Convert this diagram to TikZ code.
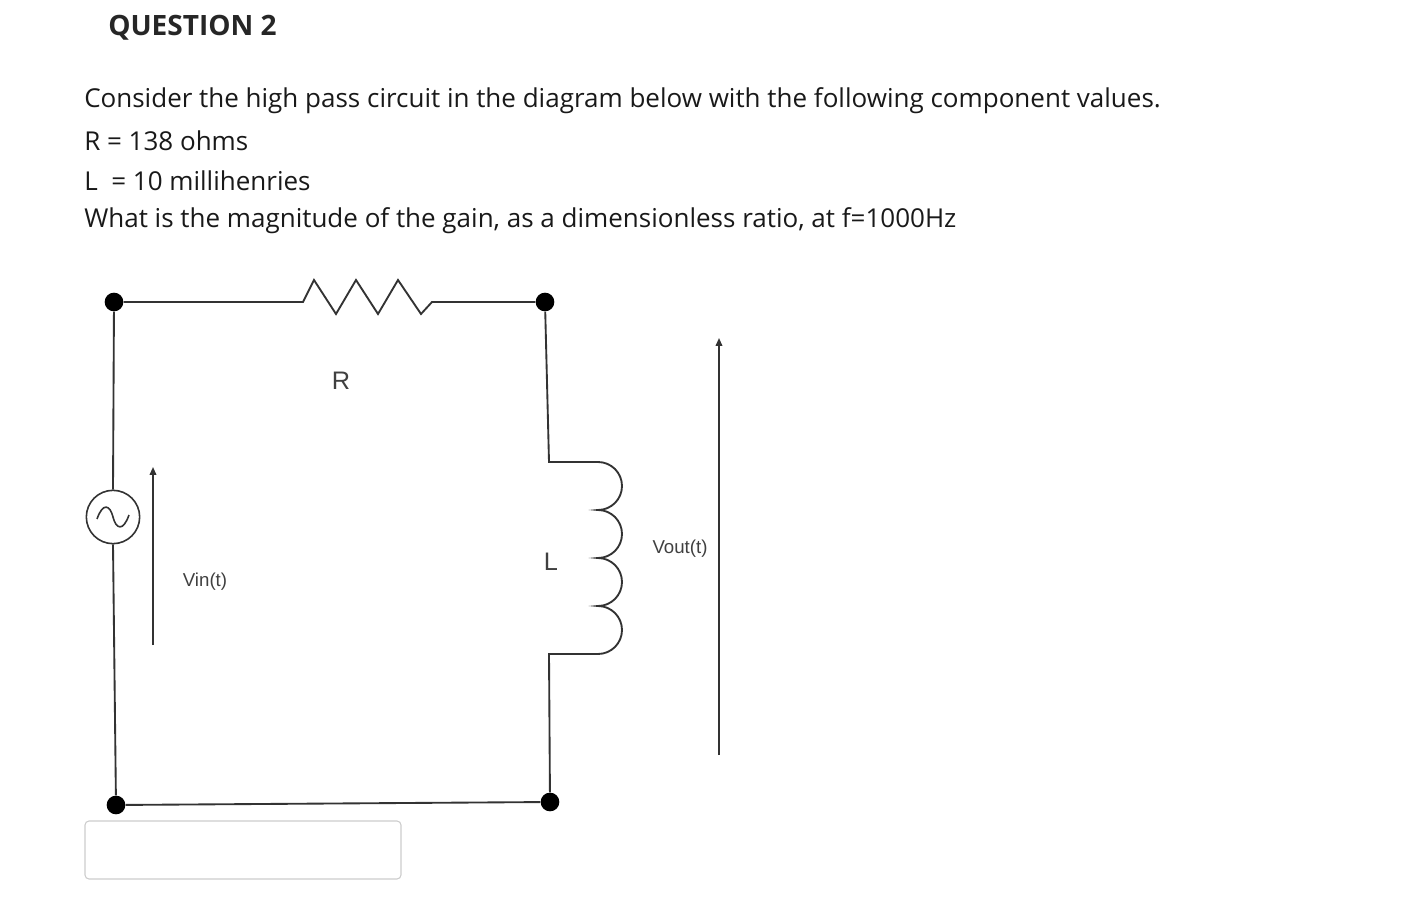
\documentclass[tikz,border=0pt]{standalone}
\usepackage{fontspec}
\setmainfont{Open Sans}
\newfontfamily\arial{Liberation Sans}
\usetikzlibrary{arrows.meta}
\begin{document}
\begin{tikzpicture}[x=0.75pt,y=-0.75pt,
  wire/.style={line width=1.4pt,draw=black!80},
  dotnode/.style={circle,fill=black,inner sep=0pt,minimum size=14pt},
  lab/.style={font=\arial\fontsize{14}{16}\selectfont,text=black!75},
  txt/.style={anchor=west,font=\fontsize{19.5}{22}\selectfont,text=black!90,inner sep=0pt},
  varrow/.style={line width=1.2pt,draw=black!80,-{Triangle[length=6pt,width=5pt]}}]
\useasboundingbox (0,0) rectangle (1414,912);
\node[anchor=west,inner sep=0pt,font=\bfseries\fontsize{21}{24}\selectfont,text=black!85] (q) at (108,28) {QUESTION 2};
\node[txt] (t1) at (84,101) {Consider the high pass circuit in the diagram below with the following component values.};
\node[txt] (t2) at (84,141) {R = 138 ohms};
\node[txt] (t3) at (84,181) {L \ = 10 millihenries};
\node[txt] (t4) at (84,221) {What is the magnitude of the gain, as a dimensionless ratio, at f=1000Hz};
% nodes
\node[dotnode] (tl) at (114,302) {};
\node[dotnode] (tr) at (545,302) {};
\node[dotnode] (bl) at (116,805) {};
\node[dotnode] (br) at (550,802) {};
\node[circle,draw=black!80,line width=1.2pt,minimum size=40pt,inner sep=0pt] (src) at (113,517) {};
\draw[line width=1.2pt,black!80] (97,519) .. controls (103,502) and (110,505) .. (113,517) .. controls (116,529) and (123,532) .. (129,515);
% resistor
\draw[wire] (tl) -- (303,302) -- (314,280) -- (336,314) -- (356,280) -- (378,314) -- (398,280) -- (421,314) -- (432,302) -- (tr);
% inductor branch
\draw[wire] (tr) -- (549,462) -- (598,462)
  arc[start angle=90,end angle=-90,radius=18pt]
  arc[start angle=90,end angle=-90,radius=18pt]
  arc[start angle=90,end angle=-90,radius=18pt]
  arc[start angle=90,end angle=-90,radius=18pt]
  -- (549,654) -- (br);
\draw[wire] (tl) -- (src.north);
\draw[wire] (src.south) -- (bl);
\draw[wire] (bl) -- (br);
% arrows
\coordinate (vi0) at (153,645); \coordinate (vi1) at (153,467);
\coordinate (vo0) at (719,755); \coordinate (vo1) at (719,338);
\draw[varrow] (vi0) -- (vi1);
\draw[varrow] (vo0) -- (vo1);
\node[lab,font=\arial\fontsize{19}{20}\selectfont] (rl) at (341,381) {R};
\node[lab,font=\arial\fontsize{19}{20}\selectfont] (ll) at (551,562) {L};
\node[lab] (vol) at (680,549) {Vout(t)};
\node[lab] (vil) at (205,582) {Vin(t)};
% answer box
\draw[black!20,line width=0.8pt,rounded corners=3pt] (85,821) rectangle (401,879);
\end{tikzpicture}
\end{document}
